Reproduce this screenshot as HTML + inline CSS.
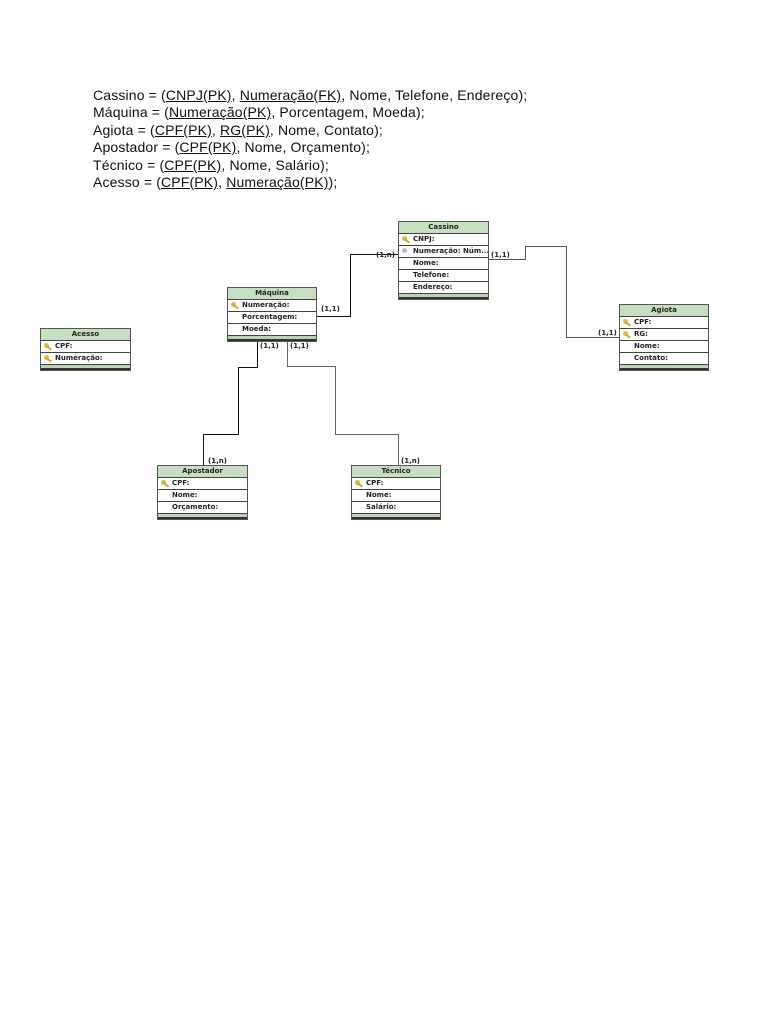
<!DOCTYPE html>
<html><head><meta charset="utf-8"><style>
body{margin:0;width:768px;height:1024px;background:#fff;position:relative;overflow:hidden;font-family:"Liberation Sans",Arial,sans-serif}
.t{position:absolute;left:93px;font-size:14px;letter-spacing:0.15px;color:#111;white-space:nowrap;line-height:17.5px}
.t u{text-decoration:underline}
.e{position:absolute;border:1px solid #555;background:#fff;font-family:"DejaVu Sans",sans-serif;font-size:7px;font-weight:bold;color:#222;box-sizing:border-box}
.h{height:11px;background:#c6dfc0;border-bottom:1px solid #444;text-align:center;line-height:11px}
.r{height:11px;border-bottom:1px solid #444;line-height:11px;padding-left:14px;position:relative;white-space:nowrap;overflow:hidden}
.r.k:before{content:"";position:absolute;left:3px;top:2px;width:5px;height:5px;border-radius:50%;background:#e0b840}
.r.k:after{content:"";position:absolute;left:5px;top:6px;width:6px;height:2px;background:#d0a830;transform:rotate(35deg)}
.r.g:before{content:"";position:absolute;left:3px;top:2px;width:5px;height:5px;border-radius:50%;background:#bbb}
.b{height:3px;background:#b9d4b2;border-bottom:2px solid #333}
.l{position:absolute;font-family:"DejaVu Sans",sans-serif;font-size:7px;font-weight:bold;color:#222}
</style></head><body>
<div class="t" style="top:87px">Cassino = (<u>CNPJ(PK)</u>, <u>Numeração(FK)</u>, Nome, Telefone, Endereço);</div>
<div class="t" style="top:104px">Máquina = (<u>Numeração(PK)</u>, Porcentagem, Moeda);</div>
<div class="t" style="top:122px">Agiota = (<u>CPF(PK)</u>, <u>RG(PK)</u>, Nome, Contato);</div>
<div class="t" style="top:139px">Apostador = (<u>CPF(PK)</u>, Nome, Orçamento);</div>
<div class="t" style="top:157px">Técnico = (<u>CPF(PK)</u>, Nome, Salário);</div>
<div class="t" style="top:174px">Acesso = (<u>CPF(PK)</u>, <u>Numeração(PK)</u>);</div>

<svg width="768" height="1024" style="position:absolute;left:0;top:0" fill="none" stroke-width="1">
<polyline points="317,316.5 350.5,316.5 350.5,254.5 398,254.5" stroke="#111"/>
<polyline points="489,259.5 525.5,259.5 525.5,246.5 566.5,246.5 566.5,337.5 619,337.5" stroke="#555"/>
<polyline points="257.5,340 257.5,367.5 238.5,367.5 238.5,434.5 203.5,434.5 203.5,465" stroke="#111"/>
<polyline points="287.5,340 287.5,366.5 335.5,366.5 335.5,434.5 398.5,434.5 398.5,465" stroke="#666"/>
</svg>

<div class="l" style="left:376px;top:251px">(1,n)</div>
<div class="l" style="left:491px;top:251px">(1,1)</div>
<div class="l" style="left:321px;top:305px">(1,1)</div>
<div class="l" style="left:598px;top:329px">(1,1)</div>
<div class="l" style="left:260px;top:342px">(1,1)</div>
<div class="l" style="left:290px;top:342px">(1,1)</div>
<div class="l" style="left:208px;top:457px">(1,n)</div>
<div class="l" style="left:401px;top:457px">(1,n)</div>

<div class="e" style="left:398px;top:221px;width:91px"><div class="h">Cassino</div><div class="r k">CNPJ:</div><div class="r g">Numeração: Núm...</div><div class="r">Nome:</div><div class="r">Telefone:</div><div class="r">Endereço:</div><div class="b"></div></div>
<div class="e" style="left:227px;top:287px;width:90px"><div class="h">Máquina</div><div class="r k">Numeração:</div><div class="r">Porcentagem:</div><div class="r">Moeda:</div><div class="b"></div></div>
<div class="e" style="left:40px;top:328px;width:91px"><div class="h">Acesso</div><div class="r k">CPF:</div><div class="r k">Numeração:</div><div class="b"></div></div>
<div class="e" style="left:619px;top:304px;width:90px"><div class="h">Agiota</div><div class="r k">CPF:</div><div class="r k">RG:</div><div class="r">Nome:</div><div class="r">Contato:</div><div class="b"></div></div>
<div class="e" style="left:157px;top:465px;width:91px"><div class="h">Apostador</div><div class="r k">CPF:</div><div class="r">Nome:</div><div class="r">Orçamento:</div><div class="b"></div></div>
<div class="e" style="left:351px;top:465px;width:90px"><div class="h">Técnico</div><div class="r k">CPF:</div><div class="r">Nome:</div><div class="r">Salário:</div><div class="b"></div></div>
</body></html>
